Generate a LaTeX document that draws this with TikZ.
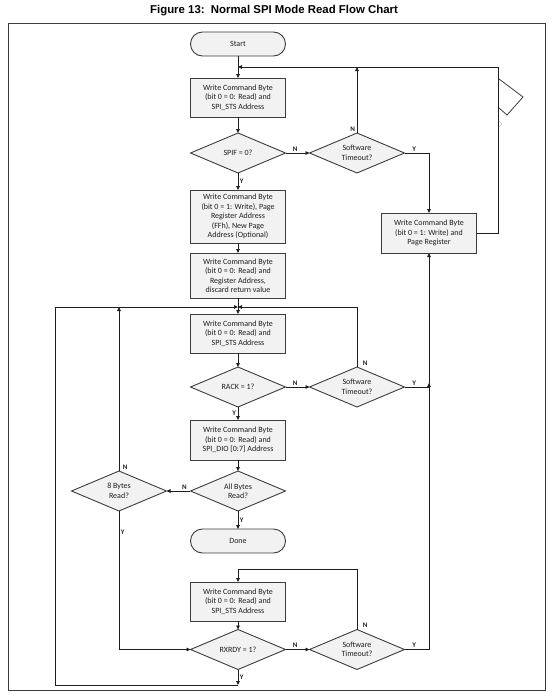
\documentclass[tikz,border=0pt]{standalone}
\usepackage{fontspec}
\setmainfont{Carlito}
\newfontfamily\titlefont{Liberation Sans}
\usepackage{tikz}
\usetikzlibrary{shapes.geometric, arrows.meta, positioning}
\definecolor{edge}{HTML}{3C3C3C}
\definecolor{ink}{HTML}{1E1E1E}
\definecolor{boxfill}{HTML}{F2F2F2}
\definecolor{faint}{HTML}{C8C8C8}
\tikzstyle{startend} = [rectangle, rounded corners=12pt, draw=edge, line width=0.9pt, fill=boxfill, text=ink, minimum width=95pt, minimum height=24pt, align=center, font=\fontsize{8}{9.5}\selectfont, inner sep=2pt, outer sep=0pt]
\tikzstyle{process} = [rectangle, draw=edge, line width=1pt, fill=boxfill, text=ink, minimum width=95pt, minimum height=39pt, align=center, font=\fontsize{8}{9.5}\selectfont, inner sep=2pt, outer sep=0pt]
\tikzstyle{decision} = [diamond, draw=edge, line width=0.9pt, fill=boxfill, text=ink, minimum width=95pt, minimum height=40pt, aspect=2.4, align=center, font=\fontsize{8}{9.5}\selectfont, inner sep=0pt, outer sep=0pt]
\tikzstyle{flow} = [line width=0.8pt, draw=ink, -{Triangle[length=4pt, width=3.6pt]}]
\tikzstyle{link} = [line width=0.8pt, draw=ink]
\tikzstyle{lbl} = [font=\fontsize{7}{8}\selectfont\bfseries, text=ink, inner sep=1.5pt]

\begin{document}
\begin{tikzpicture}[x=1pt, y=1pt]
\useasboundingbox (0,0) rectangle (554,-696);

\node (title) at (274,-11) {\titlefont\bfseries\fontsize{11.4}{13}\selectfont Figure 13:\ \ Normal SPI Mode Read Flow Chart};
\draw[edge, line width=0.9pt] (8,-23) rectangle (545,-690);

% main column
\node (start) [startend] at (238,-44) {Start};
\node (box1) [process] at (238,-97.5) {Write Command Byte\\(bit 0 = 0: Read) and\\SPI\_STS Address};
\node (spif) [decision] at (238,-153) {SPIF = 0?};
\node (sw1) [decision, right=24pt of spif] {Software\\Timeout?};
\node (box2) [process, minimum height=53pt] at (238,-216.5) {Write Command Byte\\(bit 0 = 1: Write), Page\\Register Address\\(FFh), New Page\\Address (Optional)};
\node (boxR) [process, minimum height=40pt] at (429,-233) {Write Command Byte\\(bit 0 = 1: Write) and\\Page Register};
\node (box3) [process, minimum height=45pt] at (238,-275.5) {Write Command Byte\\(bit 0 = 0: Read) and\\Register Address,\\discard return value};
\node (box4) [process] at (238,-333.5) {Write Command Byte\\(bit 0 = 0: Read) and\\SPI\_STS Address};
\node (rack) [decision] at (238,-387) {RACK = 1?};
\node (sw2) [decision, right=24pt of rack] {Software\\Timeout?};
\node (box5) [process, minimum height=40pt] at (238,-440) {Write Command Byte\\(bit 0 = 0: Read) and\\SPI\_DIO [0:7] Address};
\node (allb) [decision] at (238,-491) {All Bytes\\Read?};
\node (b8) [decision, left=24pt of allb] {8 Bytes\\Read?};
\node (done) [startend] at (238,-541) {Done};
\node (box6) [process] at (238,-601.5) {Write Command Byte\\(bit 0 = 0: Read) and\\SPI\_STS Address};
\node (rxrdy) [decision] at (238,-649.5) {RXRDY = 1?};
\node (sw3) [decision, right=24pt of rxrdy] {Software\\Timeout?};

% junctions
\coordinate (jtop) at (238,-67);
\coordinate (rtop) at (498,-67);
\coordinate (jmid) at (238,-307);
\coordinate (lp) at (55,-307);
\coordinate (jlow) at (238,-569);
\coordinate (jbot) at (238,-685);
\coordinate (j2) at (boxR.south |- sw2.east);

% off-page mark
\draw[edge, line width=0.8pt] (499,-79) -- (523,-97) -- (507,-115) -- (499,-108);
\draw[faint, line width=0.6pt] (499,-121) -- (502,-124) -- (499,-127);

\draw[flow] (start) -- (box1);
\draw[flow] (box1) -- (spif);
\draw[flow] (spif) -- node[lbl, above, pos=0.4]{N} (sw1);
\draw[flow] (spif) -- node[lbl, right]{Y} (box2);
\draw[flow] (sw1.north) -- node[lbl, above left, pos=0]{N} (sw1.north |- jtop);
\draw[flow] (sw1.east) -| node[lbl, above, pos=0.2]{Y} (boxR.north);
\draw[flow] (boxR.east) -| (rtop) -- (jtop);
\draw[flow] (box2) -- (box3);
\draw[flow] (box3) -- (box4);

\draw[flow] (box4) -- (rack);
\draw[flow] (rack) -- node[lbl, above, pos=0.4]{N} (sw2);
\draw[flow] (rack) -- node[lbl, left]{Y} (box5);
\draw[flow] (sw2.north) |- node[lbl, above right, pos=0, xshift=4pt]{N} (jmid);
\draw[flow] (sw2.east) -| node[lbl, above, pos=0.2]{Y} ([yshift=4pt]j2);
\draw[flow] (box5) -- (allb);
\draw[flow] (allb) -- node[lbl, above, pos=0.25]{N} (b8);
\draw[flow] (allb) -- node[lbl, right]{Y} (done);
\draw[flow] (b8.north) -- node[lbl, above right, pos=0, xshift=2pt]{N} (b8.north |- jmid);
\draw[flow] (b8.south) |- node[lbl, right, pos=0.075]{Y} (rxrdy.west);

\draw[flow] (box6) -- (rxrdy);
\draw[flow] (rxrdy) -- node[lbl, above, pos=0.4]{N} (sw3);
\draw[flow] (sw3.north) |- node[lbl, above right, pos=0, xshift=4pt]{N} (jlow) -- (box6.north);
\draw[flow] (sw3.east) -| node[lbl, above, pos=0.2]{Y} (boxR.south);
\draw[flow] (rxrdy.south) -- node[lbl, right]{Y} (jbot);
\draw[flow] (jbot) -| (lp) -- (jmid);

\end{tikzpicture}
\end{document}
